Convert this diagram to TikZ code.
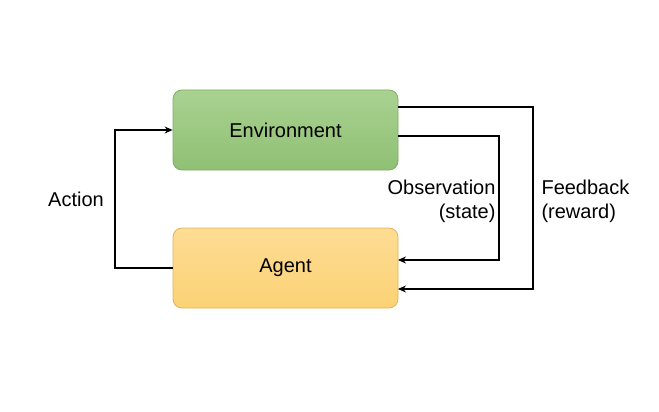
\documentclass[tikz,border=0pt]{standalone}
\usepackage{fontspec}
\setmainfont{Liberation Sans}
\usetikzlibrary{arrows.meta}
\definecolor{gtop}{HTML}{A9D291}
\definecolor{gbot}{HTML}{8FC074}
\definecolor{gline}{HTML}{7FAE64}
\definecolor{otop}{HTML}{FDDC94}
\definecolor{obot}{HTML}{FBD275}
\definecolor{oline}{HTML}{E0B458}
\begin{document}
\begin{tikzpicture}[x=1pt,y=-1pt,
  box/.style={rounded corners=9pt,minimum width=225pt,minimum height=80pt,line width=0.8pt,font=\fontsize{20}{24}\selectfont},
  lbl/.style={font=\fontsize{20}{24}\selectfont,align=left},
  conn/.style={line width=1.1pt,-{Stealth[length=8pt,width=7pt]}}]
\useasboundingbox (0,0) rectangle (659,412);
\node[box,draw=gline,top color=gtop,bottom color=gbot] (env) at (285.5,130) {Environment};
\node[box,draw=oline,top color=otop,bottom color=obot] (agent) at (285.5,268) {Agent};
\coordinate (a1) at (115,268);
\coordinate (a2) at (115,130);
\draw[conn] (agent.west) -- (a1) -- (a2) -- (env.west);
\coordinate (o1) at (499,136);
\coordinate (o2) at (499,260);
\draw[conn] (398,136) -- (o1) -- (o2) -- (398,260);
\coordinate (f1) at (533,107);
\coordinate (f2) at (533,289);
\draw[conn] (398,107) -- (f1) -- (f2) -- (398,289);
\node[lbl] (act) at (76,199) {Action};
\node[lbl,align=right,anchor=east] (obs) at (499,201) {Observation\\(state)};
\node[lbl,anchor=west] (fb) at (538,201) {Feedback\\(reward)};
\end{tikzpicture}
\end{document}
